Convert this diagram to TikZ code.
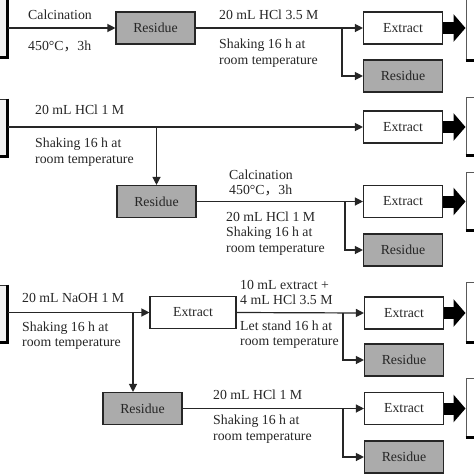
\documentclass[tikz,border=0pt]{standalone}
\usepackage{fontspec}
\setmainfont{Liberation Serif}
\newfontfamily\cjk{Noto Sans CJK SC}
\usetikzlibrary{arrows.meta}
\begin{document}
\begin{tikzpicture}[x=1pt,y=-1pt,
 font=\fontsize{13.8}{15}\selectfont,
 box/.style={draw=black!85, line width=1.1pt, minimum width=79pt, minimum height=32pt, inner sep=0pt, text=black!85},
 resbox/.style={box, fill=black!33},
 extbox/.style={box, fill=white},
 conn/.style={line width=1.2pt, draw=black!85, -{Triangle[length=8pt,width=8pt]}},
 plain/.style={line width=1.2pt, draw=black!85},
 lbl/.style={anchor=west, inner sep=0pt, text height=9pt, text depth=0pt, text=black!85},
 big/.style={line width=12pt, draw=black, -{Triangle[length=12pt,width=27pt]}},
 sidebox/.style={draw=black!65, fill=white, line width=1pt, inner sep=0pt, minimum width=34pt},
 leftbox/.style={draw=black!80, fill=black!6, line width=1pt, inner sep=0pt, minimum width=34pt},
 shadow/.style={line width=2.6pt, draw=black},
]
\useasboundingbox (0,0) rectangle (474,474);
\clip (0,0) rectangle (474,474);

% ---------- left (cut) boxes ----------
\node[leftbox, minimum height=70pt] (L1) at (-10,22) {};
\node[leftbox, minimum height=57pt] (L2) at (-10,127.5) {};
\node[leftbox, minimum height=57pt] (L3) at (-10,313.5) {};
\foreach \b in {L1,L2,L3}
  \draw[shadow] (\b.north east) -- (\b.south east) -- (\b.south west);

% ---------- right (cut) boxes ----------
\node[sidebox, minimum height=70pt] (RB1) at (483,25) {};
\node[sidebox, minimum height=58pt] (RB2) at (483,126) {};
\node[sidebox, minimum height=58pt] (RB3) at (483,201) {};
\node[sidebox, minimum height=60pt] (RB4) at (483,312) {};
\node[sidebox, minimum height=59pt] (RB5) at (483,407.5) {};
\foreach \b in {RB1,RB2,RB3,RB4,RB5}
  \draw[shadow] (\b.south west) -- (\b.south east);

% ---------- row 1 ----------
\node[resbox] (R1) at (155.5,28) {Residue};
\node[extbox] (E1) at (403,28) {Extract};
\node[resbox] (S1) at (403,76) {Residue};
\coordinate (b1) at (342,28);
\draw[conn] (L1.east |- R1.west) -- (R1.west);
\draw[conn] (R1.east) -- (E1.west);
\draw[conn] (b1) |- (S1.west);
\draw[big] (E1.east) -- (E1.east -| RB1.west);
\node[lbl] (t1) at (28,15) {Calcination};
\node[lbl] (t2) at (28,46) {450°C{\cjk ，}3h};
\node[lbl] (t3) at (219,15) {20 mL HCl 3.5 M};
\node[lbl] (t4) at (219,44) {Shaking 16 h at};
\node[lbl] (t5) at (219,60) {room temperature};

% ---------- row 2 ----------
\node[extbox] (E2) at (403,127) {Extract};
\node[resbox] (R2) at (156.5,201.5) {Residue};
\node[extbox] (E3) at (403,201.5) {Extract};
\node[resbox] (S3) at (403,250) {Residue};
\coordinate (b2) at (156.5,127);
\coordinate (b3) at (345,201.5);
\draw[conn] (L2.east |- E2.west) -- (E2.west);
\draw[conn] (b2) -- (R2.north);
\draw[conn] (R2.east) -- (E3.west);
\draw[conn] (b3) |- (S3.west);
\draw[big] (E2.east) -- (E2.east -| RB2.west);
\draw[big] (E3.east) -- (E3.east -| RB3.west);
\node[lbl] (u1) at (35,110) {20 mL HCl 1 M};
\node[lbl] (u2) at (35,143) {Shaking 16 h at};
\node[lbl] (u3) at (35,159) {room temperature};
\node[lbl] (u4) at (229,175) {Calcination};
\node[lbl] (u5) at (229,190) {450°C{\cjk ，}3h};
\node[lbl] (u6) at (226,217) {20 mL HCl 1 M};
\node[lbl] (u7) at (226,232) {Shaking 16 h at};
\node[lbl] (u8) at (226,248) {room temperature};

% ---------- row 3 ----------
\node[extbox, minimum width=86pt] (E4) at (193,312.5) {Extract};
\node[resbox] (R4) at (142.5,408.5) {Residue};
\node[extbox] (E5) at (404,313) {Extract};
\node[resbox] (S5) at (404,360) {Residue};
\node[extbox] (E6) at (404,408.5) {Extract};
\node[resbox] (S6) at (404,457) {Residue};
\coordinate (b4) at (133,313);
\coordinate (b5) at (343,313);
\coordinate (b6) at (343,408.5);
\draw[conn] (L3.east |- E4.west) -- (E4.west);
\draw[conn] (b4) -- (b4 |- R4.north);
\draw[conn] (E4.east) -- (E5.west);
\draw[conn] (b5) |- (S5.west);
\draw[conn] (R4.east) -- (E6.west);
\draw[conn] (b6) |- (S6.west);
\draw[big] (E5.east) -- (E5.east -| RB4.west);
\draw[big] (E6.east) -- (E6.east -| RB5.west);
\node[lbl] (v1) at (22,298) {20 mL NaOH 1 M};
\node[lbl] (v2) at (22,327) {Shaking 16 h at};
\node[lbl] (v3) at (22,342) {room temperature};
\node[lbl] (v4) at (240,285) {10 mL extract +};
\node[lbl] (v5) at (240,300) {4 mL HCl 3.5 M};
\node[lbl] (v6) at (240,326) {Let stand 16 h at};
\node[lbl] (v7) at (240,341) {room temperature};
\node[lbl] (v8) at (213,395) {20 mL HCl 1 M};
\node[lbl] (v9) at (213,420) {Shaking 16 h at};
\node[lbl] (v10) at (213,436) {room temperature};
\end{tikzpicture}
\end{document}
